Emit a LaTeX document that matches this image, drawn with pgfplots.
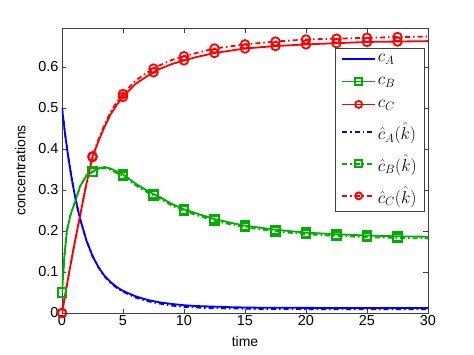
\documentclass[border=0pt]{standalone}
\usepackage{pgfplots}
\pgfplotsset{compat=1.18}
\usepackage{fontspec}
\setmainfont{Liberation Sans}
\definecolor{mblue}{rgb}{0,0,1}
\definecolor{mgreen}{rgb}{0,0.68,0}
\definecolor{mred}{rgb}{1,0,0}
\tikzset{dd/.style={dash pattern=on 5bp off 3bp on 1.5bp off 3bp}}
\begin{document}
\begin{tikzpicture}
\path[use as bounding box] (-62bp,-42bp) rectangle (412bp,313bp);
\begin{axis}[
  at={(0,0)}, anchor=south west,
  scale only axis, width=366bp, height=285bp,
  xmin=0, xmax=30, ymin=0, ymax=0.695,
  xtick={0,5,...,30}, ytick={0,0.1,0.2,0.3,0.4,0.5,0.6},
  yticklabels={0,0.1,0.2,0.3,0.4,0.5,0.6},
  tick align=inside, major tick length=4.5bp,
  axis line style={black!75, line width=0.6bp},
  every tick/.style={black!75, line width=0.6bp},
  /pgf/number format/assume math mode=true,
  tick label style={font=\fontsize{14.5}{16}\selectfont, black},
  xticklabel style={yshift=1bp},
  xlabel={time}, ylabel={concentrations},
  label style={font=\fontsize{14}{16}\selectfont},
  xlabel style={yshift=-4bp},
  ylabel style={yshift=6bp},
  legend style={at={(0.992,0.93)}, anchor=north east, draw=black!75, line width=0.6bp,
    font=\fontsize{17.28}{20}\selectfont, row sep=10bp, inner xsep=6bp, inner ysep=4bp,
    cells={anchor=west}},
  legend image code/.code={\draw[mark repeat=2,mark phase=2,#1] plot coordinates {(0cm,0cm) (0.58cm,0cm) (1.16cm,0cm)};},
]
% c_A solid
\addplot[mblue, line width=1.8bp] coordinates {
(0,0.5)(0.25,0.437)(0.5,0.383)(0.75,0.336)(1,0.295)(1.25,0.259)(1.5,0.228)(2,0.177)(2.5,0.139)(3,0.111)(3.5,0.090)(4,0.075)(4.5,0.063)(5,0.054)(6,0.041)(7,0.032)(8,0.026)(9,0.022)(10,0.019)(11,0.017)(12,0.016)(13,0.015)(14,0.014)(16,0.013)(20,0.0125)(25,0.012)(30,0.012)};
\addlegendentry{$c_A$}
% c_B solid
\addplot[mgreen, line width=1.8bp, legend image post style={mark=square, mark size=3.5bp, mark options={solid}}] coordinates {
(0,0.05)(0.2,0.14)(0.4,0.2)(0.7,0.24)(1,0.265)(1.5,0.31)(2,0.335)(2.5,0.345)(3,0.353)(3.5,0.356)(4,0.352)(4.5,0.345)(5,0.338)(6,0.316)(7,0.298)(7.5,0.29)(8,0.283)(9,0.266)(10,0.253)(11,0.243)(12.5,0.229)(14,0.219)(15,0.213)(17.5,0.203)(20,0.196)(22.5,0.192)(25,0.189)(27.5,0.187)(30,0.186)};
\addlegendentry{$c_B$}
% c_C solid
\addplot[mred, line width=1.8bp, legend image post style={mark=o, mark size=3.5bp, mark options={solid}}] coordinates {
(0,0)(0.5,0.085)(1,0.165)(1.5,0.24)(2,0.315)(2.5,0.38)(3,0.42)(3.5,0.455)(4,0.485)(4.5,0.508)(5,0.527)(6,0.558)(7,0.578)(7.5,0.587)(8,0.595)(9,0.607)(10,0.616)(11,0.624)(12.5,0.634)(15,0.645)(17.5,0.651)(20,0.655)(22.5,0.658)(25,0.661)(27.5,0.662)(30,0.663)};
\addlegendentry{$c_C$}
% c_A hat dashed
\addplot[mblue, line width=1.8bp, dd] coordinates {
(0,0.5)(0.25,0.437)(0.5,0.383)(0.75,0.336)(1,0.295)(1.25,0.259)(1.5,0.228)(2,0.177)(2.5,0.139)(3,0.111)(3.5,0.089)(4,0.073)(4.5,0.061)(5,0.052)(6,0.038)(7,0.029)(8,0.023)(9,0.018)(10,0.015)(12,0.012)(14,0.011)(16,0.010)(20,0.0095)(25,0.009)(30,0.009)};
\addlegendentry{$\hat{c}_A(\hat{k})$}
% c_B hat
\addplot[mgreen, line width=1.8bp, dd, legend image post style={mark=square, mark size=3.5bp, mark options={solid}}] coordinates {
(0,0.05)(0.2,0.14)(0.4,0.2)(0.7,0.24)(1,0.265)(1.5,0.31)(2,0.335)(2.5,0.344)(3,0.351)(3.5,0.353)(4,0.349)(4.5,0.341)(5,0.334)(6,0.312)(7,0.294)(7.5,0.286)(8,0.279)(9,0.262)(10,0.249)(11,0.239)(12.5,0.225)(14,0.215)(15,0.209)(17.5,0.199)(20,0.192)(22.5,0.188)(25,0.185)(27.5,0.183)(30,0.182)};
\addlegendentry{$\hat{c}_B(\hat{k})$}
% c_C hat
\addplot[mred, line width=1.8bp, dd, legend image post style={mark=o, mark size=3.5bp, mark options={solid}}] coordinates {
(0,0)(0.5,0.085)(1,0.165)(1.5,0.24)(2,0.316)(2.5,0.382)(3,0.424)(3.5,0.46)(4,0.491)(4.5,0.515)(5,0.534)(6,0.566)(7,0.587)(7.5,0.596)(8,0.604)(9,0.617)(10,0.626)(11,0.634)(12.5,0.645)(15,0.655)(17.5,0.662)(20,0.667)(22.5,0.669)(25,0.671)(27.5,0.673)(30,0.674)};
\addlegendentry{$\hat{c}_C(\hat{k})$}
% markers
\addplot[mgreen, only marks, mark=square, mark size=4.3bp, line width=1.8bp, forget plot] coordinates {
(0,0.05)(2.5,0.345)(5,0.338)(7.5,0.29)(10,0.253)(12.5,0.229)(15,0.213)(17.5,0.203)(20,0.196)(22.5,0.192)(25,0.189)(27.5,0.187)};
\addplot[mgreen, only marks, mark=square, mark size=4.3bp, line width=1.8bp, forget plot] coordinates {
(0,0.05)(2.5,0.344)(5,0.334)(7.5,0.286)(10,0.249)(12.5,0.225)(15,0.209)(17.5,0.199)(20,0.192)(22.5,0.188)(25,0.185)(27.5,0.183)};
\addplot[mred, only marks, mark=o, mark size=4.3bp, line width=1.8bp, forget plot] coordinates {
(0,0)(2.5,0.38)(5,0.527)(7.5,0.587)(10,0.616)(12.5,0.634)(15,0.645)(17.5,0.651)(20,0.655)(22.5,0.658)(25,0.661)(27.5,0.662)};
\addplot[mred, only marks, mark=o, mark size=4.3bp, line width=1.8bp, forget plot] coordinates {
(0,0)(2.5,0.382)(5,0.534)(7.5,0.596)(10,0.626)(12.5,0.645)(15,0.655)(17.5,0.662)(20,0.667)(22.5,0.669)(25,0.671)(27.5,0.673)};
\end{axis}
\end{tikzpicture}
\end{document}
